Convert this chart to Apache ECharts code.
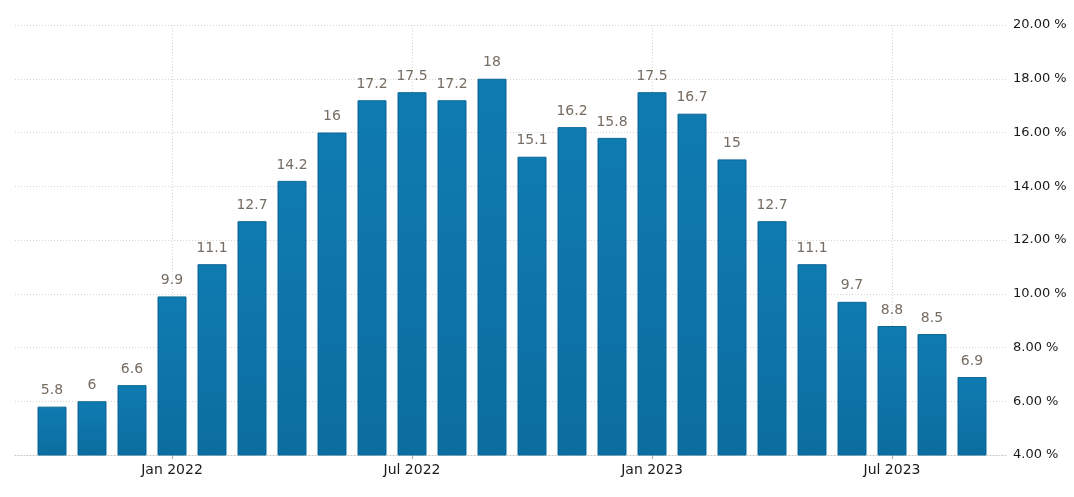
<!DOCTYPE html>
<html><head><meta charset="utf-8">
<script src="https://cdn.jsdelivr.net/npm/echarts@6/dist/echarts.min.js"></script>
<style>html,body{margin:0;padding:0;background:#fff}#c{width:1074px;height:497px}</style>
</head><body><div id="c"></div>
<script>
const categories = ['Oct 2021','Nov 2021','Dec 2021','Jan 2022','Feb 2022','Mar 2022','Apr 2022','May 2022','Jun 2022','Jul 2022','Aug 2022','Sep 2022','Oct 2022','Nov 2022','Dec 2022','Jan 2023','Feb 2023','Mar 2023','Apr 2023','May 2023','Jun 2023','Jul 2023','Aug 2023','Sep 2023'];
const values = [5.8, 6, 6.6, 9.9, 11.1, 12.7, 14.2, 16, 17.2, 17.5, 17.2, 18, 15.1, 16.2, 15.8, 17.5, 16.7, 15, 12.7, 11.1, 9.7, 8.8, 8.5, 6.9];
const labeledMonths = ['Jan 2022','Jul 2022','Jan 2023','Jul 2023'];
const yMin = 4, yMax = 20, yStep = 2;

const showIdx = (i) => labeledMonths.indexOf(categories[i]) >= 0;
const font = 'DejaVu Sans';
const chart = echarts.init(document.getElementById('c'));
chart.setOption({
  animation: false,
  grid: [
    {left: 52, right: 102, top: 25, bottom: 42},
    {left: 15, right: 66, top: 25, bottom: 42}
  ],
  xAxis: [
    {type: 'category', gridIndex: 0, data: categories, boundaryGap: false,
     axisLine: {show: false},
     axisTick: {show: true, interval: (i) => showIdx(i), length: 4, lineStyle: {color: '#aaa'}},
     axisLabel: {interval: (i) => showIdx(i), color: '#1a1a1a', fontFamily: font, fontSize: 14, margin: 8},
     splitLine: {show: true, interval: (i) => showIdx(i), lineStyle: {color: '#d4d4d4', type: [1, 2]}}
    },
    {type: 'value', gridIndex: 1, min: 0, max: 1, show: true,
     axisLine: {show: true, lineStyle: {color: '#c4c4c4', type: [1, 2]}},
     axisTick: {show: false}, axisLabel: {show: false}, splitLine: {show: false}}
  ],
  yAxis: [
    {type: 'value', gridIndex: 0, min: yMin, max: yMax, interval: yStep, show: false},
    {type: 'value', gridIndex: 1, min: yMin, max: yMax, interval: yStep, position: 'right',
     axisLine: {show: false}, axisTick: {show: false},
     axisLabel: {color: '#1a1a1a', fontFamily: font, fontSize: 13, margin: 5,
                 formatter: (v) => v.toFixed(2) + ' %'},
     splitLine: {show: true, lineStyle: {color: '#d4d4d4', type: [1, 2]}}}
  ],
  series: [{
    type: 'bar', xAxisIndex: 0, yAxisIndex: 0, data: values, barWidth: 29,
    itemStyle: {
      color: new echarts.graphic.LinearGradient(0, 0, 0, 1, [
        {offset: 0, color: '#0f7bb1'}, {offset: 1, color: '#0c6d9f'}
      ]),
      borderColor: '#0b6796', borderWidth: 1
    },
    label: {show: true, position: 'top', distance: 9, color: '#766c62', fontFamily: font, fontSize: 14}
  }]
});
</script></body></html>
